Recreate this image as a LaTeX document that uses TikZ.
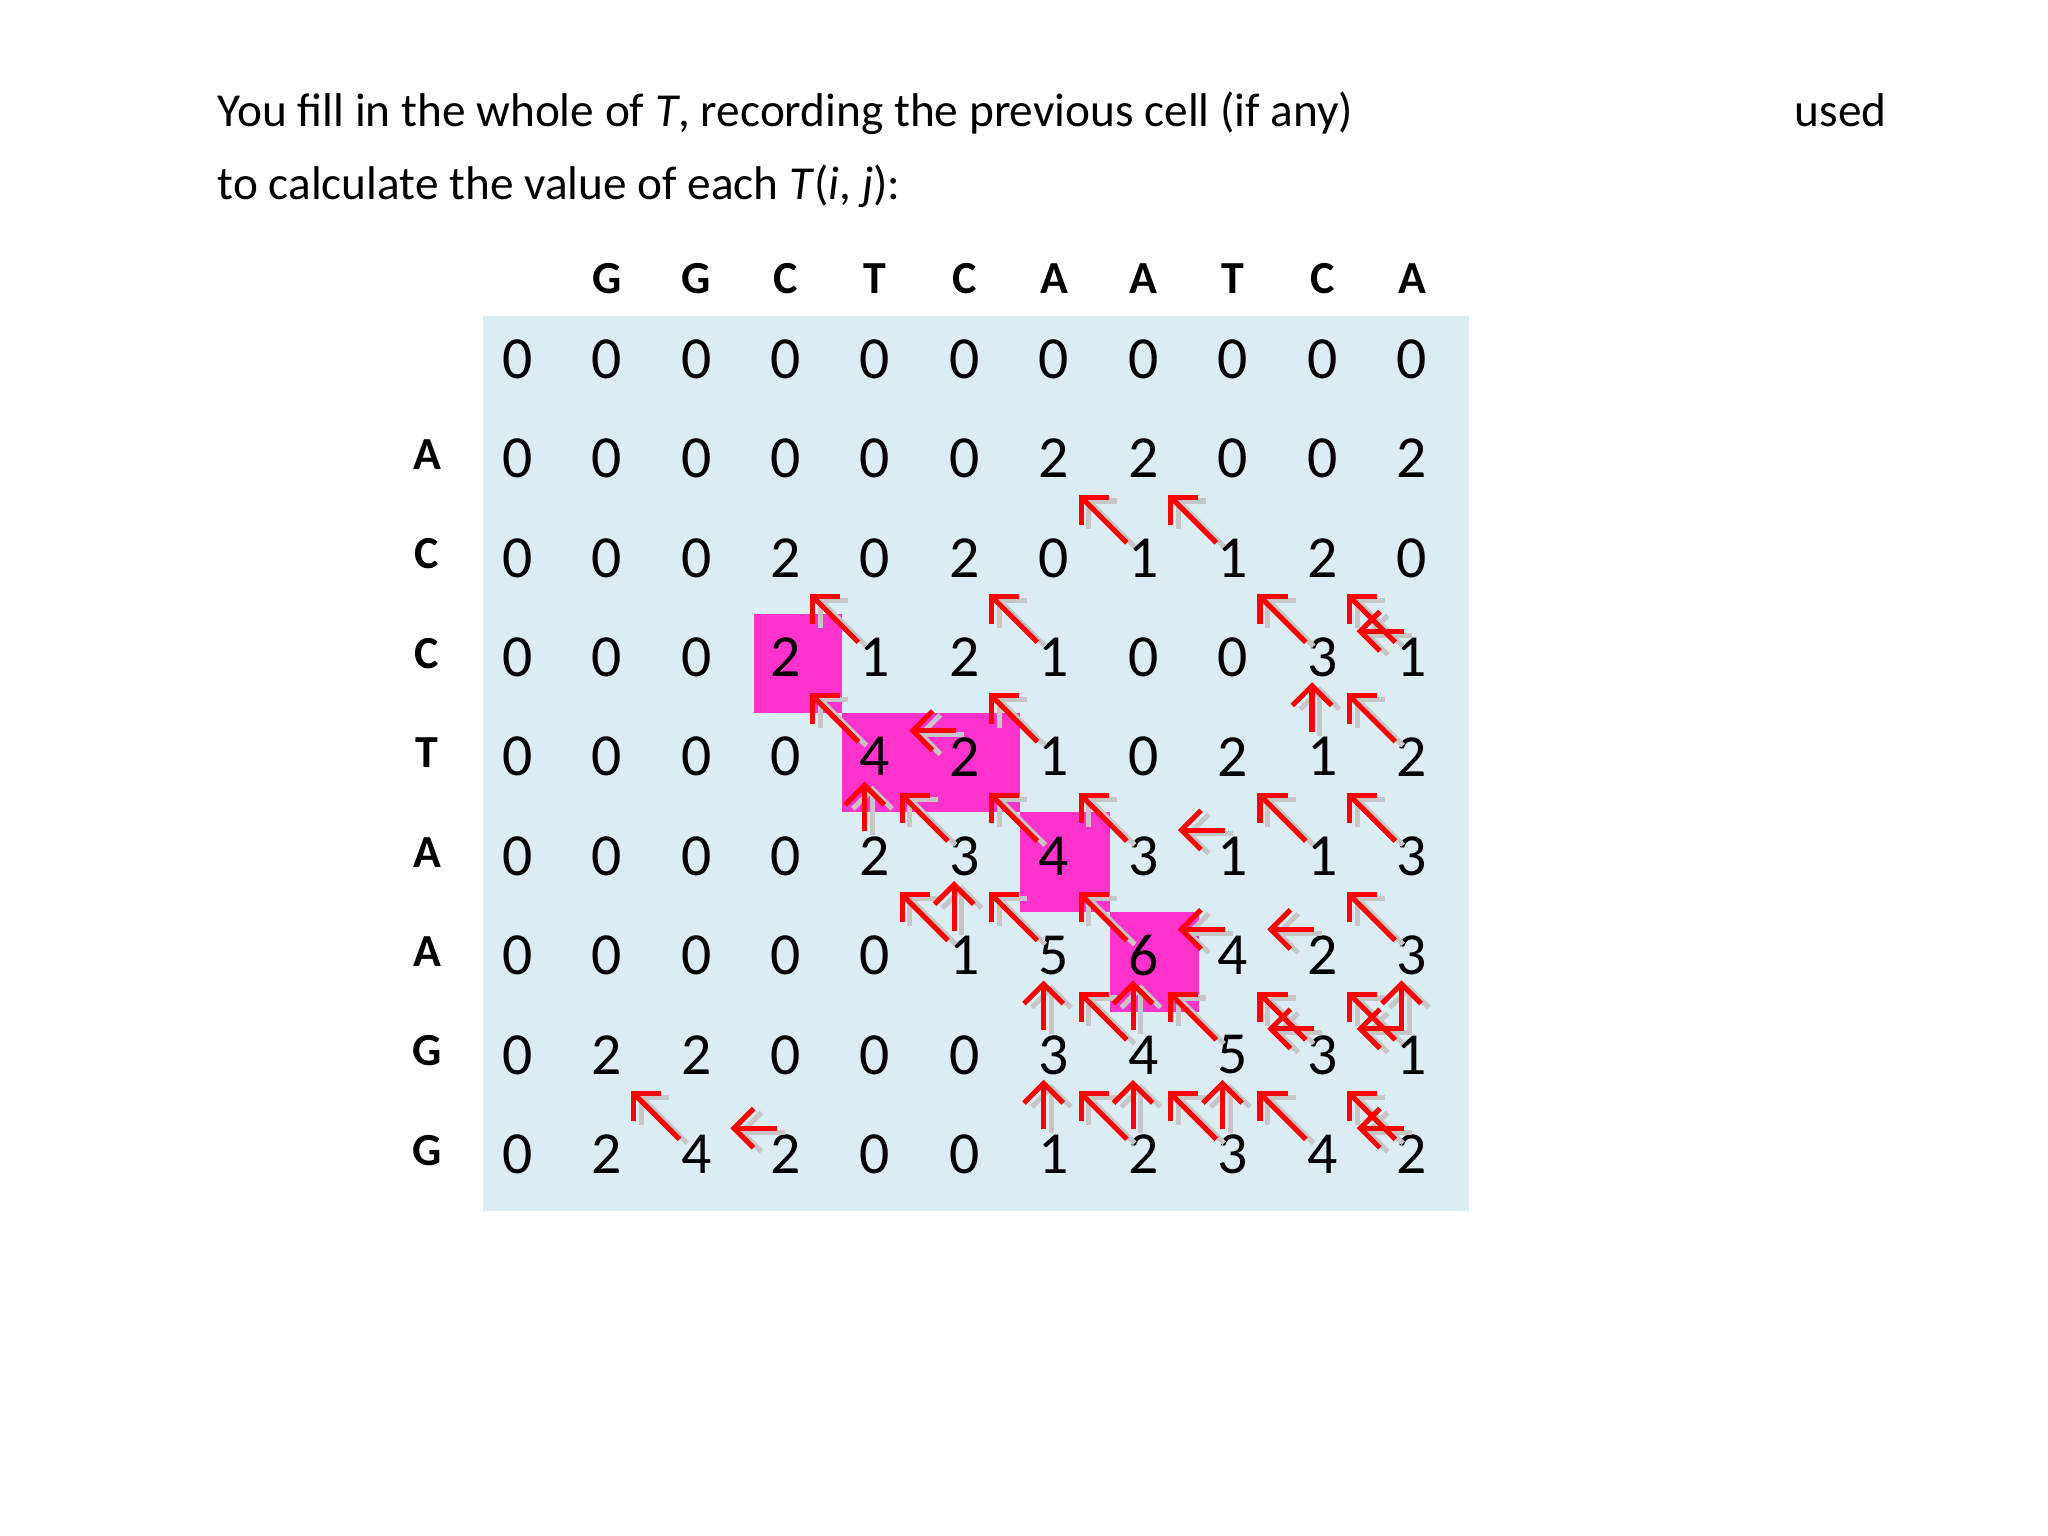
\documentclass[tikz,border=0pt]{standalone}
\usepackage{fontspec}
\setmainfont{Carlito}
\usetikzlibrary{arrows.meta}
\definecolor{bgblue}{RGB}{219,236,242}
\definecolor{hot}{RGB}{255,51,204}
\tikzset{
  arr/.style={line width=1.1pt,-{Straight Barb[length=1.5mm,width=3mm,line width=1.1pt]}},
  redarr/.style={arr,red},
  shadarr/.style={arr,gray!45},
  num/.style={font=\fontsize{13}{15}\selectfont},
  hdr/.style={font=\bfseries\fontsize{10}{12}\selectfont}
}
\newcommand\cx[1]{396+68.5*#1}
\begin{document}
\begin{tikzpicture}[x=0.01cm,y=-0.01cm]
\useasboundingbox (0,0) rectangle (1568,1176);
\fill[white] (0,0) rectangle (1568,1176);
\node[anchor=base west,font=\fontsize{10.3}{12}\selectfont,inner sep=0] (t1) at (166,97) {You fill in the whole of \textit{T}, recording the previous cell (if any)};
\node[anchor=base east,font=\fontsize{10.3}{12}\selectfont,inner sep=0] (t3) at (1445,97) {used};
\node[anchor=base west,font=\fontsize{10.3}{12}\selectfont,inner sep=0] (t2) at (166,153) {to calculate the value of each \textit{T}(\textit{i}, \textit{j}):};
\fill[bgblue] (370,242) rectangle (1125,927);
\fill[hot] (577,470) rectangle (645,546);
\fill[hot] (645,546) rectangle (781,622);
\fill[hot] (781,622) rectangle (850,698);
\fill[hot] (850,698) rectangle (918,775);
\foreach \l [count=\j] in {G,G,C,T,C,A,A,T,C,A}
  \node[hdr] (h\j) at ({\cx{\j}},213) {\l};
\foreach \l [count=\i] in {A,C,C,T,A,A,G,G}
  \node[hdr] (r\i) at (327,{275+76.1*\i-3}) {\l};
\foreach \row [count=\ii from 0] in {
 {0,0,0,0,0,0,0,0,0,0,0},
 {0,0,0,0,0,0,2,2,0,0,2},
 {0,0,0,2,0,2,0,1,1,2,0},
 {0,0,0,2,1,2,1,0,0,3,1},
 {0,0,0,0,4,2,1,0,2,1,2},
 {0,0,0,0,2,3,4,3,1,1,3},
 {0,0,0,0,0,1,5,6,4,2,3},
 {0,2,2,0,0,0,3,4,5,3,1},
 {0,2,4,2,0,0,1,2,3,4,2}}
 \foreach \v [count=\jj from 0] in \row
   \node[num] (c-\ii-\jj) at ({\cx{\jj}},{275+76.1*\ii}) {\v};
% arrows: shadows then red
\foreach \st/\dx/\dy in {shadarr/6/3, redarr/0/0}{
 \foreach \i/\j in {2/7,2/8,3/4,3/6,3/9,3/10,4/4,4/6,4/10,5/5,5/6,5/7,5/9,5/10,6/5,6/6,6/7,6/10,7/7,7/8,7/9,7/10,8/2,8/7,8/8,8/9,8/10}{
   \pgfmathsetmacro\xc{396+68.5*(\j-0.5)+3+\dx}
   \pgfmathsetmacro\yc{275+76.1*(\i-0.5)+8+\dy}
   \draw[\st] ({\xc+18.5},{\yc+18.5}) -- ({\xc-18.5},{\yc-18.5});
 }
 \foreach \i/\j in {4/9,5/4,6/5,7/6,7/7,7/10,8/6,8/7,8/8}{
   \pgfmathsetmacro\xc{396+68.5*\j-8+\dx}
   \pgfmathsetmacro\yc{275+76.1*(\i-0.5)+\dy}
   \draw[\st] (\xc,{\yc+19}) -- (\xc,{\yc-19});
 }
 \foreach \i/\j in {3/10,4/5,5/8,6/8,6/9,7/9,7/10,8/3,8/10}{
   \pgfmathsetmacro\xc{396+68.5*(\j-0.5)+10+\dx}
   \pgfmathsetmacro\yc{275+76.1*\i-20+\dy}
   \draw[\st] ({\xc+18},\yc) -- ({\xc-18},\yc);
 }
}
\end{tikzpicture}
\end{document}
